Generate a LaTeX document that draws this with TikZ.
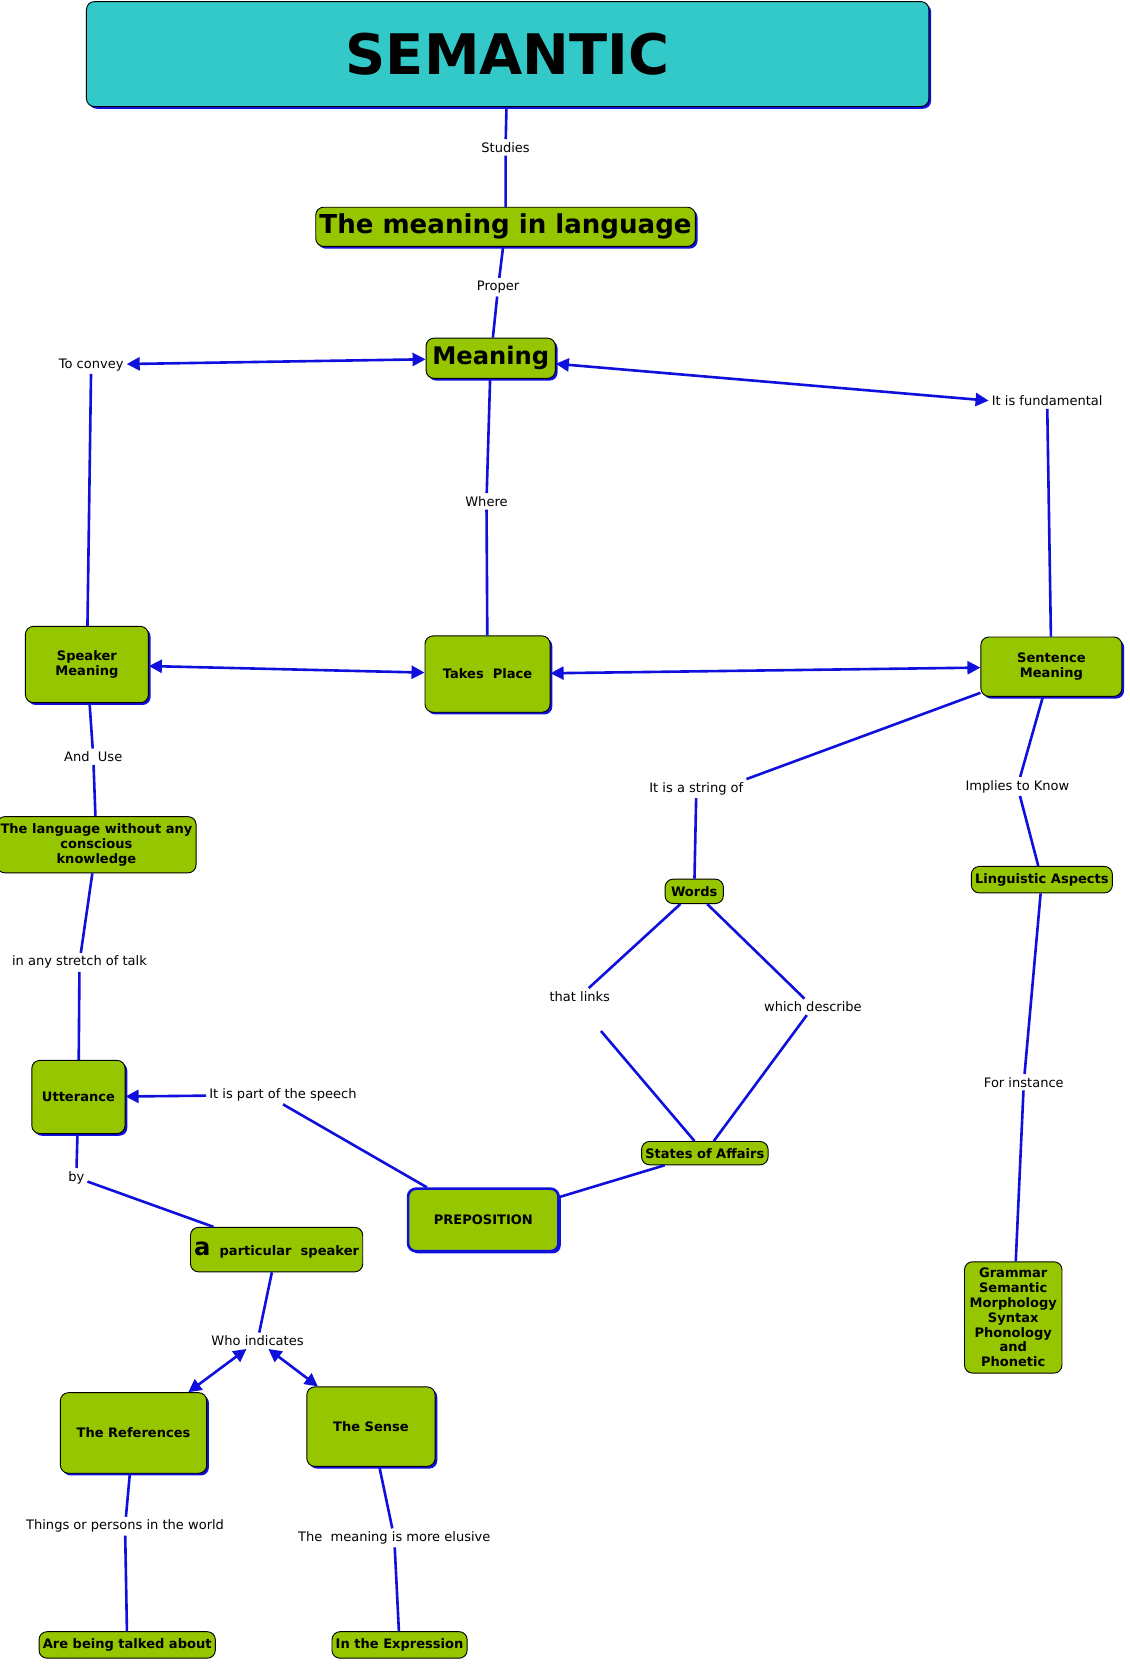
\documentclass[tikz,border=0pt]{standalone}
\usepackage{fontspec}
\setmainfont{DejaVu Sans}
\usepackage{tikz}
\usetikzlibrary{positioning}
\usetikzlibrary{shadows}
\usetikzlibrary{arrows, arrows.meta}
\definecolor{conceptGreen}{HTML}{95C600}
\definecolor{titleTeal}{HTML}{33C9C9}
\definecolor{linkBlue}{HTML}{1010DD}
\begin{document}
\begin{tikzpicture}[
    x=0.02cm, y=-0.02cm,
    concept/.style={rectangle,
    draw=black, fill=conceptGreen, line width=0.5pt,
    font=\fontsize{7}{8}\selectfont\bfseries,
    align=center, inner sep=2pt,
    rounded corners=1.5mm},
    shadowed/.style={drop shadow={fill=linkBlue, opacity=1,
    shadow xshift=1.2pt, shadow yshift=-1.2pt}},
    link/.style={font=\fontsize{7}{8}\selectfont, inner sep=1pt},
    line width = 1.4pt
    ]
    \useasboundingbox (0,0) rectangle (1066,1570);
    \node[concept, shadowed, fill=titleTeal, minimum width=15.9cm, minimum height=1.98cm,
      font=\fontsize{30}{32}\selectfont\bfseries] (sem) at (479,51) {SEMANTIC};
    \node[concept, shadowed, minimum width=6.7cm, minimum height=0.74cm,
      font=\fontsize{14}{16}\selectfont\bfseries] (tml) at (477,214) {The meaning in language};
    \node[concept, shadowed, minimum width=2.44cm, minimum height=0.76cm,
      font=\fontsize{13}{15}\selectfont\bfseries] (mean) at (463,338) {Meaning};
    \node[concept, shadowed, minimum width=2.32cm, minimum height=1.44cm] (spk) at (82,627) {Speaker\\Meaning};
    \node[concept, shadowed, minimum width=2.36cm, minimum height=1.44cm] (take) at (460,636) {Takes~ Place};
    \node[concept, shadowed, minimum width=2.66cm, minimum height=1.12cm] (sent) at (992,629) {Sentence\\Meaning};
    \node[concept, minimum width=3.58cm, minimum height=1.06cm] (lang) at (91,797) {The language without any\\conscious\\knowledge};
    \node[concept, minimum width=1.1cm, minimum height=0.46cm] (word) at (655,841) {Words};
    \node[concept, minimum width=2.58cm, minimum height=0.5cm] (ling) at (983,830) {Linguistic Aspects};
    \node[concept, shadowed, minimum width=1.76cm, minimum height=1.38cm] (utt) at (74,1035) {Utterance};
    \node[concept, minimum width=2.34cm, minimum height=0.44cm] (state) at (665,1088) {States of Affairs};
    \node[concept, shadowed, draw=linkBlue, line width=1.4pt, minimum width=2.84cm,
      minimum height=1.18cm] (prep) at (456,1151) {PREPOSITION};
    \node[concept, minimum width=3.12cm, minimum height=0.84cm] (part) at (261,1179)
      {{\fontsize{13}{14}\selectfont a}~ particular~ speaker};
    \node[concept, minimum width=1.84cm, minimum height=2.1cm] (gram) at (956,1243)
      {Grammar\\Semantic\\Morphology\\Syntax\\Phonology\\and\\Phonetic};
    \node[concept, shadowed, minimum width=2.76cm, minimum height=1.52cm] (ref) at (126,1352) {The References};
    \node[concept, shadowed, minimum width=2.42cm, minimum height=1.5cm] (sense) at (350,1346) {The Sense};
    \node[concept, minimum width=3.16cm, minimum height=0.5cm] (talk) at (120,1552) {Are being talked about};
    \node[concept, minimum width=2.54cm, minimum height=0.5cm] (expr) at (377,1552) {In the Expression};
    % link phrases
    \node[link] (stud) at (477,139) {Studies};
    \node[link] (prop) at (470,271) {Proper};
    \node[link] (conv) at (86,344) {To convey};
    \node[link] (fund) at (988,378) {It is fundamental};
    \node[link] (where) at (459,473) {Where};
    \node[link] (use) at (88,714) {And~ Use};
    \node[link] (strg) at (657,744) {It is a string of};
    \node[link] (impl) at (960,742) {Implies to Know};
    \node[link] (strch) at (75,908) {in any stretch of talk};
    \node[link] (links) at (547,940) {that links};
    \node[link] (descr) at (767,950) {which describe};
    \node[link] (inst) at (966,1021) {For instance};
    \node[link] (speech) at (267,1033) {It is part of the speech};
    \node[link] (by) at (72,1111) {by};
    \node[link] (who) at (243,1265) {Who indicates};
    \node[link] (thing) at (118,1440) {Things or persons in the world};
    \node[link] (elus) at (372,1451) {The~ meaning is more elusive};
    % connectors
    \begin{scope}[draw=linkBlue, >={Triangle[length=7pt,width=7pt]}]
    \draw (sem) -- (stud) -- (tml) -- (prop) -- (mean);
    \draw[<->] (mean) -- (conv);
    \draw (conv) -- (spk);
    \draw[<->] (mean) -- (fund.west);
    \draw (fund) -- (sent);
    \draw (mean) -- (where) -- (take);
    \draw[<->] (spk) -- (take);
    \draw[<->] (take) -- (sent);
    \draw (spk) -- (use) -- (lang) -- (strch) -- (utt);
    \draw (sent) -- (strg.north east) (strg) -- (word);
    \draw (sent) -- (impl) -- (ling) -- (inst) -- (gram);
    \draw (word) -- (links) (links.south) ++(20,25) -- (state);
    \draw (word) -- (descr) -- (state);
    \draw (state) -- (prep);
    \draw (prep) -- (speech.south);
    \draw[->] (speech) -- (utt);
    \draw (utt) -- (by) -- (part) -- (who);
    \draw[<->] (who) -- (ref);
    \draw[<->] (who) -- (sense);
    \draw (ref) -- (thing) -- (talk);
    \draw (sense) -- (elus) -- (expr);
    \end{scope}
\end{tikzpicture}
\end{document}
